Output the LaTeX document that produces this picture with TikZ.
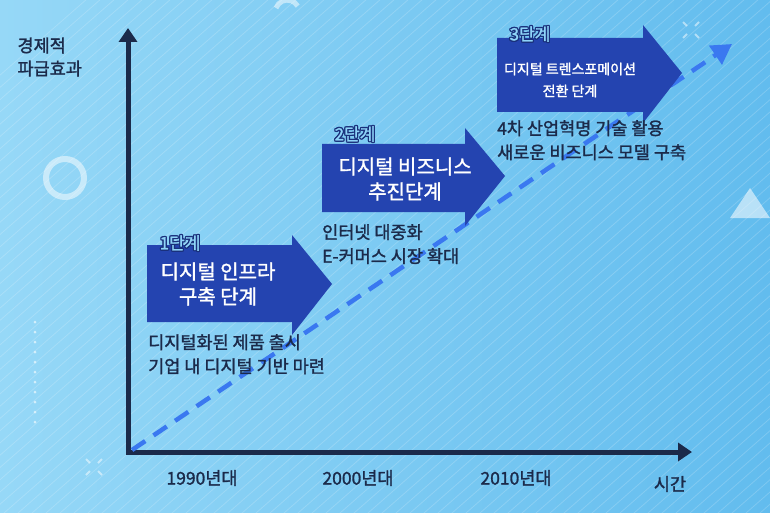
\documentclass[tikz,border=0pt]{standalone}
\usepackage{fontspec}
\setmainfont{Noto Sans CJK KR}[BoldFont={* Bold},AutoFakeBold=1.5]
\usetikzlibrary{arrows.meta}
\definecolor{navy}{HTML}{1B2A4A}
\definecolor{boxblue}{HTML}{2444B0}
\definecolor{dashblue}{HTML}{3A78F0}
\definecolor{bgA}{HTML}{96D8F7}
\definecolor{bgB}{HTML}{62BCEE}
\definecolor{lbl}{HTML}{8FD4F8}
\tikzset{
  stagebox/.style={fill=boxblue,draw=none},
  inner/.style={text=white,font=\bfseries\fontsize{20}{25}\selectfont,align=center},
  inner3/.style={text=white,font=\bfseries\fontsize{14}{22}\selectfont,align=center},
  desc/.style={text=navy,font=\bfseries\fontsize{17.5}{24}\selectfont,align=left,anchor=north west,inner sep=0},
  stagelbl/.style={text=lbl,font=\bfseries\fontsize{17}{18}\selectfont,inner sep=0},
  stageshadow/.style={text=boxblue!70!black,font=\bfseries\fontsize{17}{18}\selectfont,inner sep=0},
  axlbl/.style={text=navy,font=\bfseries\fontsize{17.5}{23}\selectfont},
  deco/.style={draw=white,opacity=0.5}
}
\newcommand{\stagetag}[3]{%
  \foreach \dx/\dy in {-1.2/0,1.2/0,0/-1.2,0/1.2,-1/-1,1/1,-1/1,1/-1}
    \node[stageshadow] at ($(#2)+(\dx,\dy)$) {#3};
  \node[stagelbl] (#1) at (#2) {#3};}
\usetikzlibrary{calc}
\begin{document}
\begin{tikzpicture}[x=1pt,y=-1pt]
\useasboundingbox (0,0) rectangle (770,513);
\shade[left color=bgA,right color=bgB] (0,0) rectangle (770,513);
\begin{scope}
\clip (0,0) rectangle (770,513);
\foreach \i in {-500,-486,...,770} \draw[white,opacity=0.18,line width=0.8] (\i,513) -- (\i+700,-100);
\end{scope}
% decorations
\draw[deco,line width=6] (65,178) circle (19);
\draw[deco,line width=5] (276,8) arc (200:330:12);
\fill[white,opacity=0.55] (730,218) -- (770,218) -- (750,188) -- cycle;
\foreach \yy in {322,332,...,422} \fill[white,opacity=0.6] (35,\yy) circle (1.5);
\draw[deco,line width=2] (86,459)--(90,463) (98,471)--(102,475) (86,475)--(90,471) (98,463)--(102,459);
\draw[deco,line width=2] (683,22)--(687,26) (695,34)--(699,38) (683,38)--(687,34) (695,26)--(699,22);
% axes
\draw[navy,line width=5,-{Triangle[length=14,width=18]}] (128,454) -- (128,28);
\draw[navy,line width=5,-{Triangle[length=14,width=18]}] (126,452) -- (692,452);
\node[axlbl,align=left,anchor=north west] (ylab) at (14,34) {경제적\\파급효과};
\node[axlbl] (x1) at (202,478) {1990년대};
\node[axlbl] (x2) at (358,478) {2000년대};
\node[axlbl] (x3) at (516,478) {2010년대};
\node[axlbl] (xt) at (670,484) {시간};
% dashed trend
\coordinate (d0) at (132,450);
\coordinate (d1) at (732,44);
\draw[dashblue,line width=4.5,dash pattern=on 16pt off 10pt,-{Triangle[length=20,width=22]}] (d0) -- (d1);
% stage 1
\fill[stagebox] (147,245) -- (292,245) -- (292,235) -- (332,284) -- (292,335) -- (292,322) -- (147,322) -- cycle;
\stagetag{s1}{180,243}{1단계}
\node[inner] (t1) at (218,284) {디지털 인프라\\구축 단계};
\node[desc] (d1t) at (148,334) {디지털화된 제품 출시\\기업 내 디지털 기반 마련};
% stage 2
\fill[stagebox] (322,144) -- (465,144) -- (465,128) -- (505,176) -- (465,226) -- (465,212) -- (322,212) -- cycle;
\stagetag{s2}{355,134}{2단계}
\node[inner] (t2) at (405,179) {디지털 비즈니스\\추진단계};
\node[desc] (d2t) at (322,224) {인터넷 대중화\\E-커머스 시장 확대};
% stage 3
\fill[stagebox] (497,38) -- (643,38) -- (643,25) -- (682,73) -- (643,123) -- (643,112) -- (497,112) -- cycle;
\stagetag{s3}{530,34}{3단계}
\node[inner3] (t3) at (570,80) {디지털 트렌스포메이션\\전환 단계};
\node[desc] (d3t) at (497,120) {4차 산업혁명 기술 활용\\새로운 비즈니스 모델 구축};
\end{tikzpicture}
\end{document}
